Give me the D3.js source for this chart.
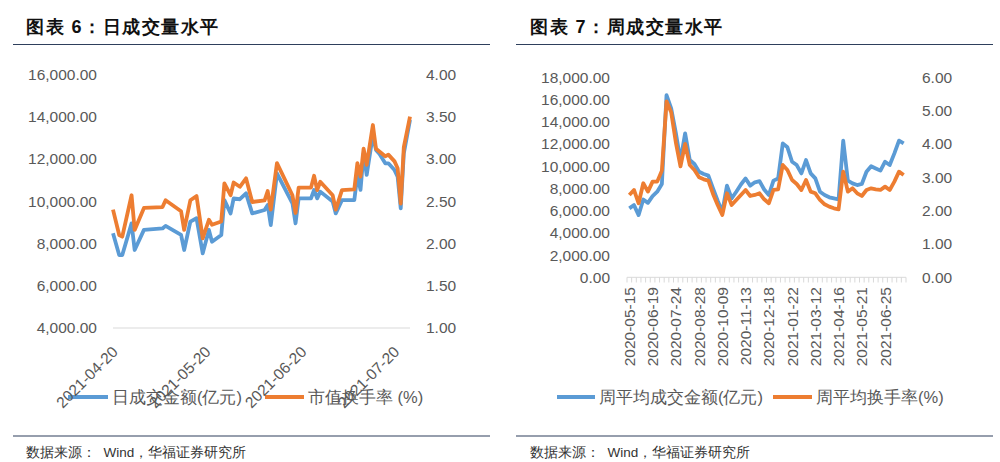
<!DOCTYPE html>
<html>
<head>
<meta charset="utf-8">
<script src="https://cdn.jsdelivr.net/npm/d3@7"></script>
<style>
  body { margin: 0; background: #fff; }
  text { font-family: "Liberation Sans", Arial, sans-serif; }
</style>
</head>
<body>
<svg id="chart" width="1000" height="462"></svg>
<script>
// ---- figure 6: daily (date, amount 亿元, turnover %) ----
const dailyDates = ["2021-04-20","2021-04-22","2021-04-23","2021-04-26","2021-04-27","2021-04-30","2021-05-06","2021-05-07",
  "2021-05-12","2021-05-13","2021-05-15","2021-05-17","2021-05-19","2021-05-21","2021-05-22","2021-05-25","2021-05-26",
  "2021-05-28","2021-05-29","2021-05-31","2021-06-02","2021-06-04","2021-06-08","2021-06-09","2021-06-10","2021-06-12",
  "2021-06-17","2021-06-18","2021-06-19","2021-06-23","2021-06-24","2021-06-25","2021-06-26","2021-06-30","2021-07-01",
  "2021-07-03","2021-07-07","2021-07-08","2021-07-09","2021-07-10","2021-07-11","2021-07-13","2021-07-14","2021-07-15",
  "2021-07-17","2021-07-18","2021-07-20","2021-07-21","2021-07-22","2021-07-23","2021-07-25"];
const dailyAmount = [8480,7450,7450,8950,7690,8640,8710,8830,8400,7690,9030,9190,7530,8640,8080,8400,10050,
  9420,10130,10090,10370,9420,9580,9820,8870,11310,9900,8950,10130,10130,10530,10130,10450,9980,9420,
  10050,10050,11240,10530,12260,11240,13130,12420,12260,11790,11790,11470,11160,9660,12260,13840];
const dailyTurnover = [2.40,2.10,2.08,2.57,2.16,2.42,2.43,2.51,2.38,2.16,2.51,2.56,2.06,2.28,2.22,2.26,2.71,
  2.57,2.72,2.67,2.77,2.49,2.51,2.62,2.40,2.95,2.57,2.36,2.66,2.66,2.80,2.63,2.73,2.57,2.40,
  2.63,2.64,2.95,2.79,3.12,2.93,3.40,3.12,3.09,3.03,3.05,2.97,2.89,2.47,3.14,3.50];
const dailyTickDates = ["2021-04-20","2021-05-20","2021-06-20","2021-07-20"];
const dailyLeftTicks = [4000,6000,8000,10000,12000,14000,16000];
const dailyRightTicks = [1,1.5,2,2.5,3,3.5,4];

// ---- figure 7: weekly ----
const weekDates = ["2020-05-15","2020-05-22","2020-05-29","2020-06-05","2020-06-12",
  "2020-06-19","2020-06-24","2020-07-03","2020-07-10","2020-07-17",
  "2020-07-24","2020-07-31","2020-08-07","2020-08-14","2020-08-21",
  "2020-08-28","2020-09-04","2020-09-11","2020-09-18","2020-09-25",
  "2020-10-09","2020-10-16","2020-10-23","2020-10-30","2020-11-06",
  "2020-11-13","2020-11-20","2020-11-27","2020-12-04","2020-12-11",
  "2020-12-18","2020-12-25","2020-12-31","2021-01-08","2021-01-15",
  "2021-01-22","2021-01-29","2021-02-05","2021-02-19","2021-02-26",
  "2021-03-12","2021-03-19","2021-03-26","2021-04-02","2021-04-09",
  "2021-04-16","2021-04-23","2021-04-30","2021-05-07","2021-05-14",
  "2021-05-21","2021-05-28","2021-06-04","2021-06-11","2021-06-18",
  "2021-06-25","2021-07-02","2021-07-09","2021-07-16","2021-07-23"];
const weekAmount = [6200,6500,5600,7000,6700,7300,7700,8400,16400,15200,
  13000,10500,12950,10550,10200,9500,9300,9150,8000,6900,
  5900,8250,7100,7700,8350,8900,8250,8550,8650,7900,
  7400,8700,8900,12050,11700,10400,10100,9350,10550,9350,
  8900,7700,7400,7200,7100,7000,12300,8700,8450,8300,
  8400,9500,10000,9800,9600,10400,10100,11150,12300,12050];
const weekTurnover = [2.47,2.62,2.22,2.82,2.57,2.87,2.87,3.2,5.28,4.95,
  4.05,3.33,4.0,3.37,3.22,3.0,2.94,2.9,2.5,2.17,
  1.87,2.52,2.17,2.32,2.47,2.62,2.44,2.47,2.52,2.34,
  2.22,2.62,2.64,3.37,3.22,2.92,2.8,2.62,2.92,2.57,
  2.52,2.32,2.19,2.12,2.07,2.04,3.17,2.57,2.67,2.52,
  2.44,2.62,2.67,2.64,2.62,2.72,2.62,2.87,3.17,3.07];
const weekLeftTicks = [0,2000,4000,6000,8000,10000,12000,14000,16000,18000];
const weekRightTicks = [0,1,2,3,4,5,6];

const BLUE = "#5b9bd5", ORANGE = "#ed7d31", GREY = "#595959", CJK = '"Noto Sans CJK SC", sans-serif';
const svg = d3.select("#chart");
const parse = d3.timeParse("%Y-%m-%d");

// titles, rules, sources
function frame(x0, x1, tx, title) {
  svg.append("text").attr("x", tx).attr("y", 33).attr("font-family", CJK)
    .attr("font-size", 18).attr("font-weight", "bold").attr("letter-spacing", 1.5)
    .attr("fill", "#111").text(title);
  svg.append("line").attr("x1", x0).attr("x2", x1).attr("y1", 44.5).attr("y2", 44.5)
    .attr("stroke", "#2e3f5c").attr("stroke-width", 1.2);
  svg.append("line").attr("x1", x0).attr("x2", x1).attr("y1", 436).attr("y2", 436)
    .attr("stroke", "#2e3f5c").attr("stroke-width", 1.2);
  svg.append("text").attr("x", tx).attr("y", 457).attr("font-family", CJK)
    .attr("font-size", 13.5).attr("fill", "#333").attr("xml:space", "preserve")
    .text("数据来源：  Wind，华福证券研究所");
}
frame(13, 490, 26, "图表 6：日成交量水平");
frame(516, 993, 530, "图表 7：周成交量水平");

function legend(items, y) {
  items.forEach(it => {
    svg.append("line").attr("x1", it.x1).attr("x2", it.x2).attr("y1", y).attr("y2", y)
      .attr("stroke", it.color).attr("stroke-width", 3.8);
    svg.append("text").attr("x", it.x2 + 4).attr("y", y + 6).attr("font-family", CJK)
      .attr("font-size", 16.5).attr("fill", GREY).text(it.label);
  });
}

function yAxes(yl, yr, lx, rx, lt, rt) {
  const gl = svg.append("g").attr("transform", `translate(${lx},0)`)
    .call(d3.axisLeft(yl).tickValues(lt).tickFormat(d3.format(",.2f")).tickSize(0).tickPadding(0));
  const gr = svg.append("g").attr("transform", `translate(${rx},0)`)
    .call(d3.axisRight(yr).tickValues(rt).tickFormat(d3.format(".2f")).tickSize(0).tickPadding(0));
  [gl, gr].forEach(g => {
    g.select(".domain").remove();
    g.selectAll("text").attr("font-size", 15.5).attr("fill", GREY)
      .attr("font-family", '"Liberation Sans", Arial, sans-serif');
  });
}

// ---------- figure 6 ----------
{
  const x = d3.scaleTime().domain([parse("2021-04-20"), parse("2021-07-25")]).range([113, 410]);
  const yl = d3.scaleLinear().domain([4000, 16000]).range([328, 74.3]);
  const yr = d3.scaleLinear().domain([1, 4]).range([328, 74.3]);
  yAxes(yl, yr, 97, 426, dailyLeftTicks, dailyRightTicks);

  legend([{x1: 68, x2: 108, color: BLUE, label: "日成交金额(亿元)"},
          {x1: 265, x2: 304, color: ORANGE, label: "市值换手率 (%)"}], 397);

  svg.append("line").attr("x1", 113).attr("x2", 410).attr("y1", 328).attr("y2", 328)
    .attr("stroke", "#d9d9d9").attr("stroke-width", 1);

  svg.append("g").selectAll("text").data(dailyTickDates).join("text")
    .attr("transform", d => `translate(${x(parse(d)) + 2},349) rotate(-45)`)
    .attr("text-anchor", "end").attr("dy", "0.35em")
    .attr("font-size", 15.5).attr("fill", GREY).text(d => d);

  const pts = dailyDates.map((d, i) => ({t: parse(d), a: dailyAmount[i], r: dailyTurnover[i]}));
  svg.append("path").datum(pts).attr("fill", "none").attr("stroke", BLUE).attr("stroke-width", 3.8)
    .attr("stroke-linejoin", "round").attr("d", d3.line().x(d => x(d.t)).y(d => yl(d.a)));
  svg.append("path").datum(pts).attr("fill", "none").attr("stroke", ORANGE).attr("stroke-width", 3.8)
    .attr("stroke-linejoin", "round").attr("d", d3.line().x(d => x(d.t)).y(d => yr(d.r)));
}

// ---------- figure 7 ----------
{
  const x = d3.scaleBand().domain(weekDates).range([627, 906]);
  const cx = d => x(d) + x.bandwidth() / 2;
  const yl = d3.scaleLinear().domain([0, 18000]).range([277.3, 77.3]);
  const yr = d3.scaleLinear().domain([0, 6]).range([277.3, 77.3]);
  yAxes(yl, yr, 610, 922, weekLeftTicks, weekRightTicks);

  legend([{x1: 557, x2: 595, color: BLUE, label: "周平均成交金额(亿元)"},
          {x1: 773, x2: 812, color: ORANGE, label: "周平均换手率(%)"}], 397);

  svg.append("line").attr("x1", 627).attr("x2", 906).attr("y1", 277.3).attr("y2", 277.3)
    .attr("stroke", "#d9d9d9").attr("stroke-width", 1);
  svg.append("g").selectAll("line").data(weekDates.concat(["end"])).join("line")
    .attr("x1", (d, i) => 627 + i * x.step()).attr("x2", (d, i) => 627 + i * x.step())
    .attr("y1", 277.3).attr("y2", 282.5).attr("stroke", "#d9d9d9").attr("stroke-width", 1);

  svg.append("g").selectAll("text").data(weekDates.filter((d, i) => i % 5 === 0)).join("text")
    .attr("transform", d => `translate(${cx(d)},287) rotate(-90)`)
    .attr("text-anchor", "end").attr("dy", "0.35em")
    .attr("font-size", 15.5).attr("fill", GREY).text(d => d);

  svg.append("path").datum(weekAmount).attr("fill", "none").attr("stroke", BLUE).attr("stroke-width", 3.8)
    .attr("stroke-linejoin", "round").attr("d", d3.line().x((d, i) => cx(weekDates[i])).y(d => yl(d)));
  svg.append("path").datum(weekTurnover).attr("fill", "none").attr("stroke", ORANGE).attr("stroke-width", 3.8)
    .attr("stroke-linejoin", "round").attr("d", d3.line().x((d, i) => cx(weekDates[i])).y(d => yr(d)));
}
</script>
</body>
</html>
